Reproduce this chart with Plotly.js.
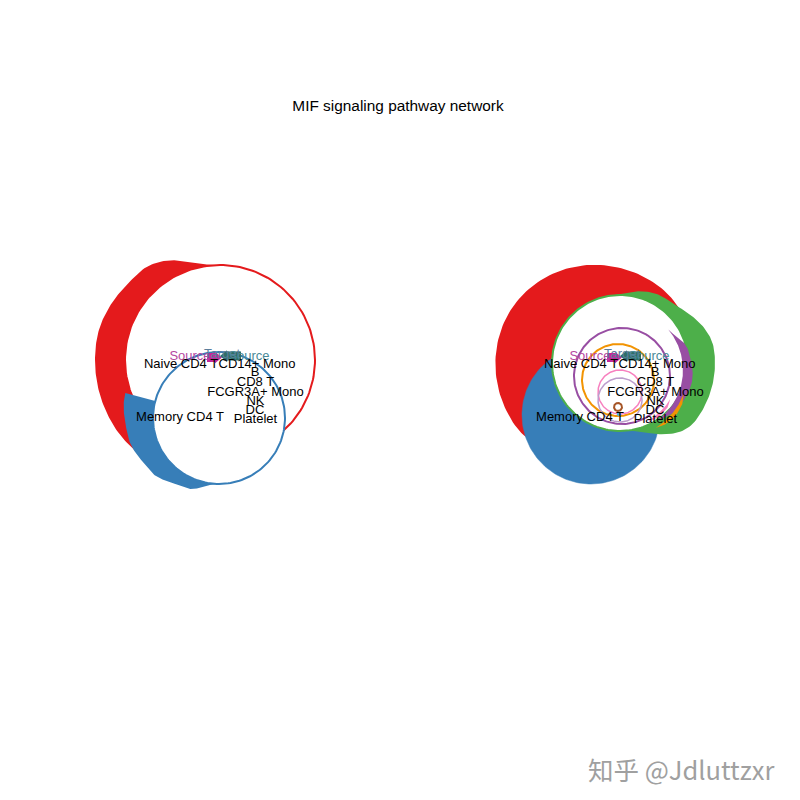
<!DOCTYPE html>
<html>
<head>
<meta charset="utf-8">
<script src="https://cdn.plot.ly/plotly-3.0.1.min.js"></script>
<style>html,body{margin:0;padding:0;background:#fff}</style>
</head>
<body>
<div id="chart" style="width:800px;height:800px"></div>
<script>
// ---- data ----
const chartTitle = "MIF signaling pathway network";
const cellNames  = ["Naive CD4 T","Memory CD4 T","CD14+ Mono","B","CD8 T","FCGR3A+ Mono","NK","DC","Platelet"];
const cellColors = ["#E41A1C","#377EB8","#4DAF4A","#984EA3","#F29403","#F781BF","#BC9DCC","#A65628","#54B0E4"];
const labelX = [181,180,257,255,255.5,255.5,255.5,255,255.5];
const labelY = [365,418,365,373,383,393,402,411,420];
const panelOffset = [0,400];

const stNames  = ["Source","Target","Source"];
const stColors = ["#B6479F","#5B7E9C","#4A8A98"];
const stX = [190,222,249];
const stY = [357,355,357];

const edgeFromX = [207,241];
const edgeToX   = [222,220];
const edgeY     = [357.5,356];
const edgeColors = ["#C2289A","#2E6E66"];

// self-loops (panel-local coordinates)
const loopPanel = [0,0, 1,1,1,1,1,1,1,1,1];
const loopCell  = [0,1, 0,1,2,3,4,5,6,7,8];
const ringCx = [220,219, 198,191,220,222,218,220,220,218,219];
const ringCy = [360,418, 368,415,363,376,380,392,400,407,414];
const ringR  = [95,66, 0,69,68,48,36,22,22,4,1.6];
const ringFill = ["white","white","skip","solid","white","none","none","none","none","none","solid"];
const ringWidth = [2,2, 0,0,2,2,2,1.5,1.5,2,1.5];
// crescent (thick part of loop)
const cresCx = [220,219, 198,null,220,220,220,220,null,null,null];
const cresCy = [360,418, 368,null,363,370,370,370,null,null,null];
const cresR  = [95,66, 0,null,68,63,68,58,null,null,null];
const cresA1 = [92,165, -20,null,100,40,-20,-30,null,null,null];
const cresA2 = [250,268, 290,null,-84,-55,-58,-62,null,null,null];
const cresW  = [[0,24,30,30,28],[31,27,21,12,0],[95,102,105,101,80],null,[0,11,27,27,0],[0,8,10,7,0],[0,3,4,3,0],[0,2.5,3,2.5,0],null,null,null];

// ---- build ----
function pt(cx, cy, R, deg){ const a = deg*Math.PI/180; return [cx + R*Math.cos(a), cy - R*Math.sin(a)]; }
function widthAt(ws, t){
  const n = ws.length-1; let k = Math.min(Math.floor(t*n), n-1); const s = t*n - k;
  const ss = s*s*(3-2*s); return Math.max(0, ws[k] + (ws[k+1]-ws[k])*ss);
}
const traces = [];
for (let i=0;i<loopCell.length;i++){
  const off = panelOffset[loopPanel[i]];
  const col = cellColors[loopCell[i]];
  if (cresW[i]){
    const xs=[], ys=[], xi=[], yi=[]; const N=160;
    for (let j=0;j<=N;j++){
      const t=j/N, th = cresA1[i] + (cresA2[i]-cresA1[i])*t;
      const w = widthAt(cresW[i], t);
      const po = pt(cresCx[i]+off, cresCy[i], cresR[i]+w, th);
      const pi = pt(cresCx[i]+off, cresCy[i], cresR[i], th);
      xs.push(po[0]); ys.push(po[1]); xi.unshift(pi[0]); yi.unshift(pi[1]);
    }
    traces.push({type:"scatter", mode:"lines", x:xs.concat(xi), y:ys.concat(yi), fill:"toself",
      fillcolor:col, line:{width:0, color:col}, hoverinfo:"skip"});
  }
  if (ringFill[i]==="skip") continue;
  const rx=[], ry=[];
  for (let j=0;j<=180;j++){ const p = pt(ringCx[i]+off, ringCy[i], ringR[i], j*2); rx.push(p[0]); ry.push(p[1]); }
  const tr = {type:"scatter", mode:"lines", x:rx, y:ry, hoverinfo:"skip",
    line:{width: ringWidth[i], color: col}};
  if (ringFill[i]==="white"){ tr.fill="toself"; tr.fillcolor="#FFFFFF"; }
  else if (ringFill[i]==="solid"){ tr.fill="toself"; tr.fillcolor=col; if(ringWidth[i]===0){tr.line={width:0.5,color:col};} }
  traces.push(tr);
}
for (let p=0;p<panelOffset.length;p++){
  const off = panelOffset[p];
  // edges Source -> Target as arrow polygons
  for (let e=0;e<edgeFromX.length;e++){
    const x0 = edgeFromX[e]+off, x1 = edgeToX[e]+off, y = edgeY[e];
    const d = Math.sign(x1-x0), h1 = 4.5, h2 = 5.8, L = 7;
    const xb = x1 - d*L;
    traces.push({type:"scatter", mode:"lines", fill:"toself", fillcolor:edgeColors[e],
      line:{width:0, color:edgeColors[e]}, hoverinfo:"skip",
      x:[x0, xb, xb, x1, xb, xb, x0], y:[y-h1, y-h1, y-h2, y, y+h2, y+h1, y+h1]});
  }
  traces.push({type:"scatter", mode:"text", x:stX.map(v=>v+off), y:stY, text:stNames,
    textfont:{family:"Liberation Sans, Arial, sans-serif", size:13, color:stColors}, hoverinfo:"skip"});
  traces.push({type:"scatter", mode:"text", x:labelX.map(v=>v+off), y:labelY, text:cellNames,
    textfont:{family:"Liberation Sans, Arial, sans-serif", size:13, color:"#000000"}, hoverinfo:"skip"});
}
const annotations = [{x:681, y:768, xref:"x", yref:"y", text:"知乎 @Jdluttzxr", showarrow:false,
  font:{family:"Noto Sans CJK SC, sans-serif", size:25.5, color:"#a0a0a0"}}];

const layout = {
  width:800, height:800, margin:{l:0,r:0,t:0,b:0}, paper_bgcolor:"#fff", plot_bgcolor:"#fff",
  showlegend:false,
  title:{text:chartTitle, x:398/800, xanchor:"center", y:1-106/800, yanchor:"middle",
    font:{family:"Liberation Sans, Arial, sans-serif", size:15.4, color:"#000"}},
  xaxis:{range:[0,800], visible:false, fixedrange:true},
  yaxis:{range:[800,0], visible:false, fixedrange:true},
  annotations:annotations
};
Plotly.newPlot("chart", traces, layout, {displayModeBar:false, staticPlot:true});
</script>
</body>
</html>
